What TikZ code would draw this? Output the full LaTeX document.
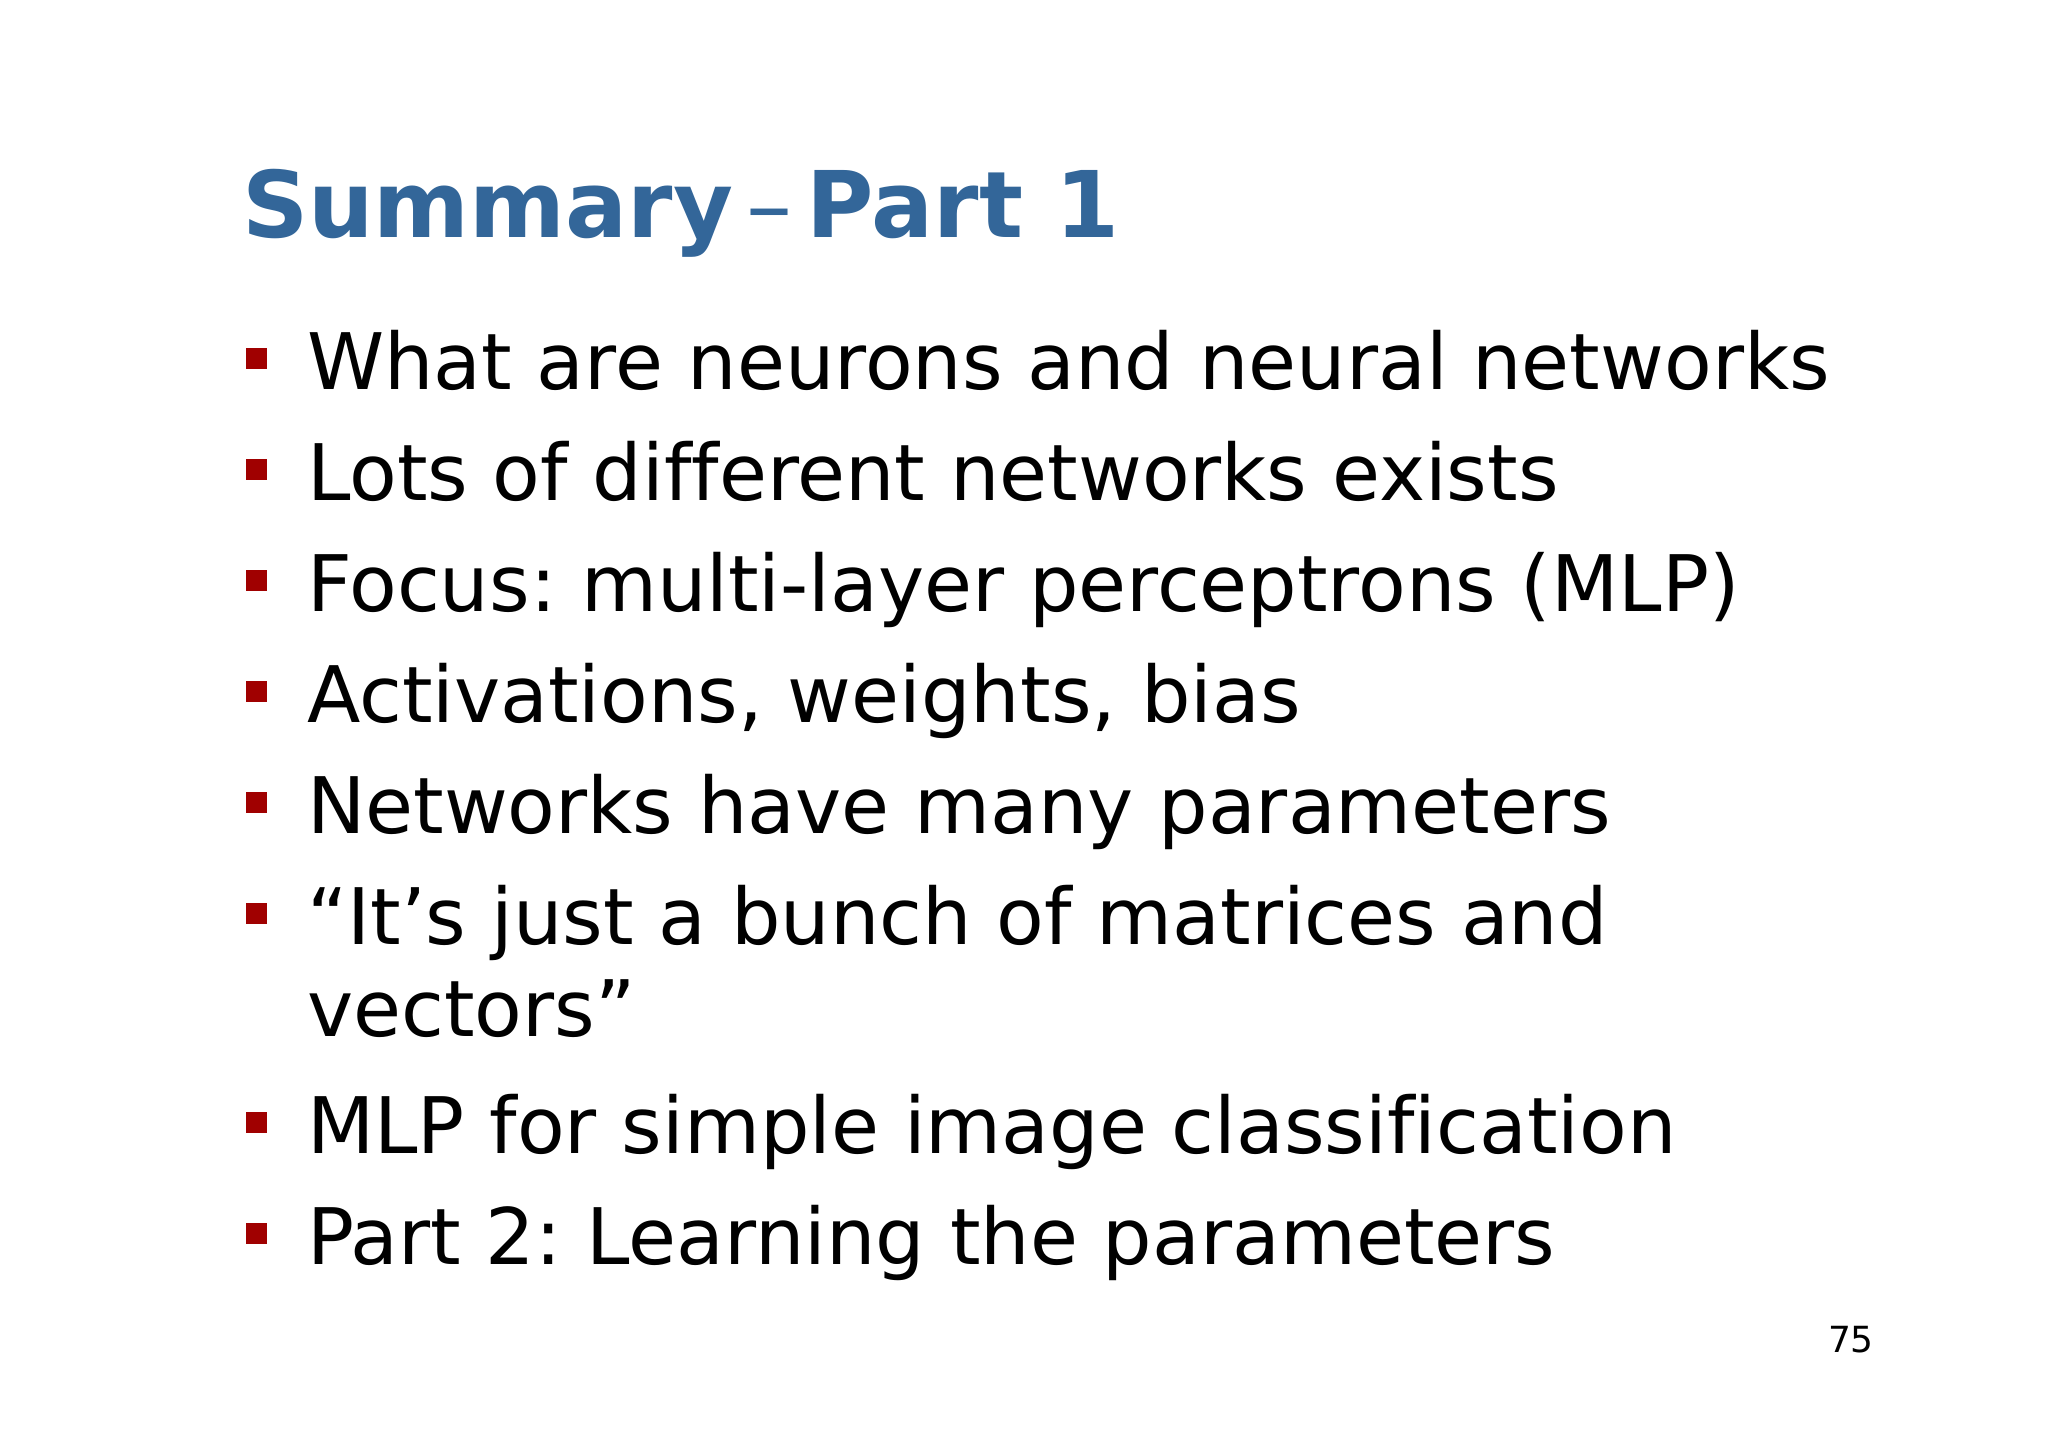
\documentclass[tikz,border=0pt]{standalone}
\usepackage{fontspec}
\setmainfont[Ligatures=NoCommon]{DejaVu Sans}
\frenchspacing
\definecolor{titleblue}{HTML}{336699}
\definecolor{bulletred}{HTML}{A00000}
\begin{document}
\begin{tikzpicture}[x=1pt,y=-1pt,
  item/.style={anchor=base west,inner sep=0,font=\fontsize{78}{92}\selectfont},
  bsq/.style={fill=bulletred,minimum size=21pt,inner sep=0}]
\useasboundingbox (0,0) rectangle (2048,1447);
\node[anchor=base west,inner sep=0,text=titleblue,font=\fontsize{92}{110}\selectfont\bfseries] (title) at (242,238) {Summary\hspace{0.15em}{\mdseries –}\hspace{0.15em}Part 1};
\foreach \t/\y [count=\i] in {What are neurons and neural networks/389,Lots of different networks exists/500,Focus: multi-layer perceptrons (MLP)/611,{Activations, weights, bias}/722,Networks have many parameters/833,“It’s just a bunch of matrices and/944,MLP for simple image classification/1153,Part 2: Learning the parameters/1264}{
  \node[item] (t\i) at (307,\y) {\t};
  \node[bsq] (b\i) at (256,\y-31) {};
}
\node[item] (t6b) at (307,1036) {vectors”};
\node[anchor=base east,inner sep=0,font=\fontsize{36}{40}\selectfont] (pg) at (1874,1352) {75};
\end{tikzpicture}
\end{document}
